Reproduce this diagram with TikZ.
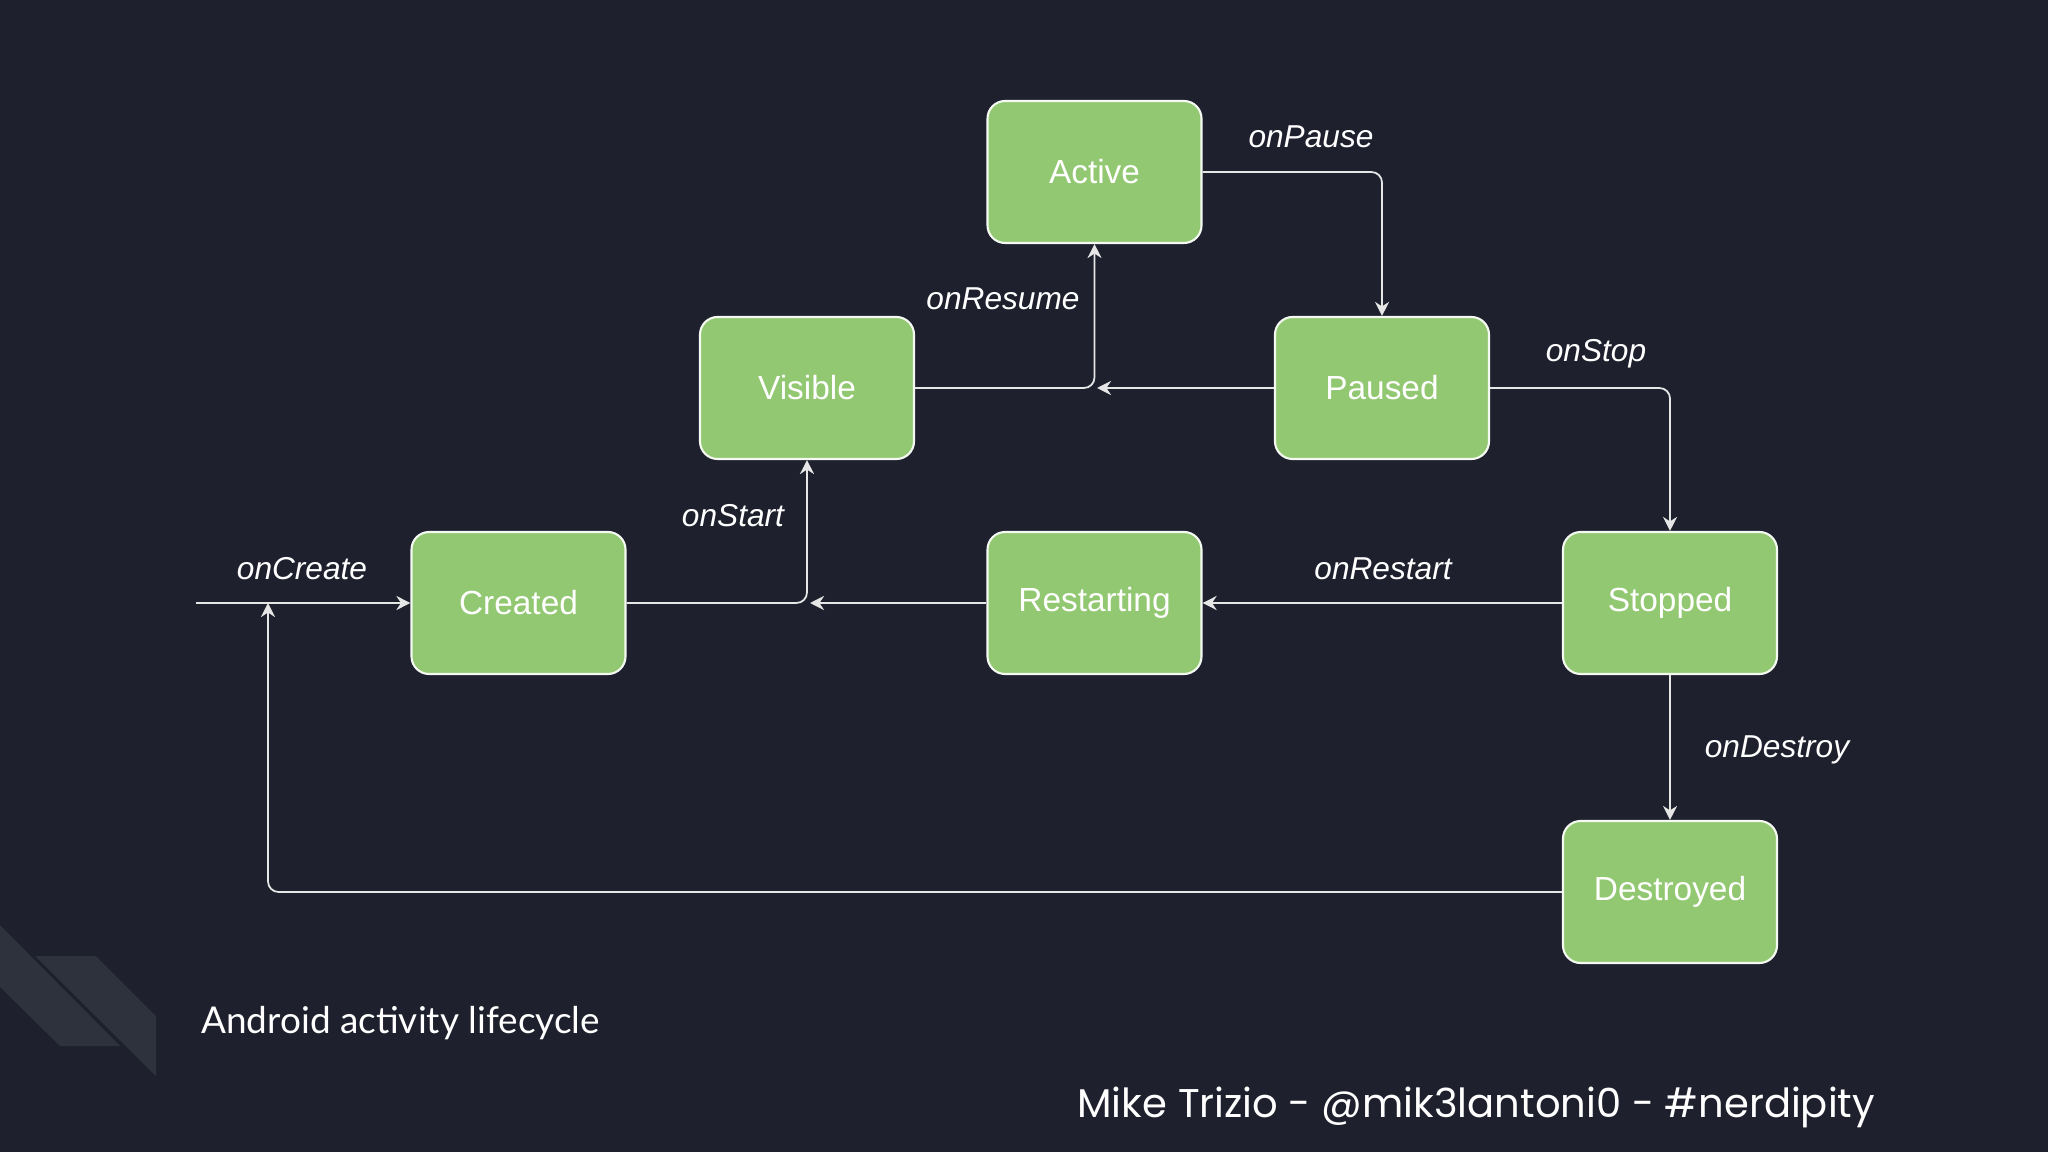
\documentclass[tikz,border=0pt]{standalone}
\usepackage{fontspec}
\setmainfont{Liberation Sans}
\newfontfamily\capfont{Lato}
\newfontfamily\footfont{Poppins}
\usetikzlibrary{arrows.meta}
\definecolor{bg}{HTML}{1E202D}
\definecolor{deco}{HTML}{2E323D}
\definecolor{boxg}{HTML}{93C872}
\definecolor{ln}{HTML}{E6E6E6}
\tikzset{
  state/.style={draw=white!90!boxg, line width=0.6pt, fill=boxg, rounded corners=5pt, minimum width=214*0.01cm, minimum height=142*0.01cm, text=white, font=\fontsize{9.5}{11}\selectfont},
  conn/.style={draw=ln, line width=0.5pt, rounded corners=3pt, -{Stealth[length=4pt,width=4pt]}},
  lab/.style={text=white, font=\fontsize{9}{11}\selectfont\itshape},
}
\begin{document}
\begin{tikzpicture}[x=0.01cm,y=-0.01cm]
\fill[bg] (0,0) rectangle (2048,1152);
\useasboundingbox (0,0) rectangle (2048,1152);
\fill[deco] (0,925) -- (120,1046) -- (60,1046) -- (0,987) -- cycle;
\fill[deco] (35,956) -- (96,956) -- (156,1016) -- (156,1076) -- cycle;
\node[state] (active) at (1094.5,172) {Active};
\node[state] (visible) at (807,388) {Visible};
\node[state] (paused) at (1382,388) {Paused};
\node[state] (created) at (518.5,603) {Created};
\node[state] (restart) at (1094.5,603) {Restarting};
\node[state] (stopped) at (1670,603) {Stopped};
\node[state] (destroyed) at (1670,892) {Destroyed};
\coordinate (start) at (196,603);
\coordinate (jc) at (268,603);
\coordinate (jv) at (810,603);
\coordinate (ja) at (1097,388);
\draw[conn] (start) -- (created);
\draw[conn] (destroyed.west) -| (jc);
\draw[conn] (created.east) -| (visible.south);
\draw[conn] (restart.west) -- (jv);
\draw[conn] (stopped.west) -- (restart.east);
\draw[conn] (stopped.south) -- (destroyed.north);
\draw[conn] (paused.east) -| (stopped.north);
\draw[conn] (paused.west) -- (ja);
\draw[conn] (visible.east) -| (active.south);
\draw[conn] (active.east) -| (paused.north);
\node[lab] (l1) at (1311,137) {onPause};
\node[lab] (l2) at (1003,299) {onResume};
\node[lab] (l3) at (1596,354) {onStop};
\node[lab] (l4) at (733,516) {onStart};
\node[lab] (l5) at (302,569) {onCreate};
\node[lab] (l6) at (1383,569) {onRestart};
\node[lab] (l7) at (1777,750) {onDestroy};
\node[anchor=west, text=white, font=\capfont\fontsize{10.5}{12}\selectfont] (cap) at (189,1023) {Android activity lifecycle};
\node[anchor=west, text=white, font=\footfont\fontsize{11.4}{14}\selectfont] (foot) at (1065,1107) {Mike Trizio - @mik3lantoni0 - \#nerdipity};
\end{tikzpicture}
\end{document}
